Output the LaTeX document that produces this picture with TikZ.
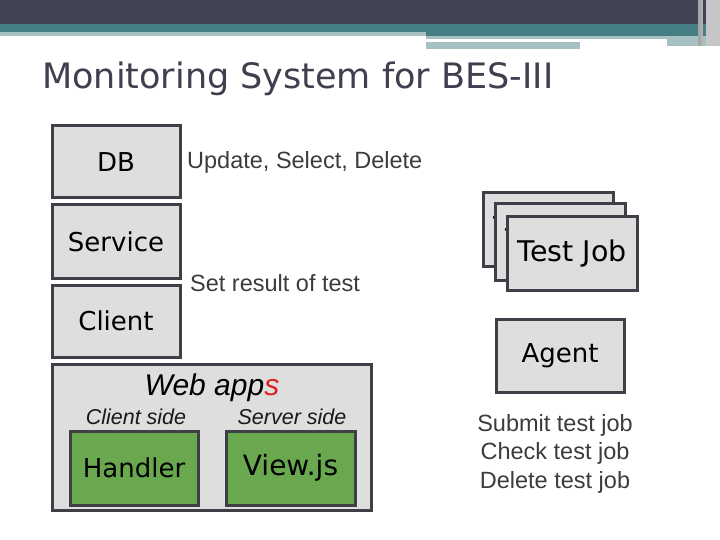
\documentclass[tikz,border=0pt]{standalone}
\usepackage{fontspec}
\setmainfont{Liberation Sans}
\newfontfamily\boxfont{DejaVu Sans}
\definecolor{darkbar}{RGB}{67,67,86}
\definecolor{tealbar}{RGB}{69,127,132}
\definecolor{lightteal}{RGB}{167,192,195}
\definecolor{boxfill}{RGB}{222,222,222}
\definecolor{boxline}{RGB}{63,63,72}
\definecolor{greenfill}{RGB}{106,168,79}
\definecolor{titlecol}{RGB}{63,63,79}
\definecolor{labelcol}{RGB}{60,60,60}
\definecolor{sred}{RGB}{220,30,30}
\tikzset{
  graybox/.style={draw=boxline, fill=boxfill, line width=3pt, inner sep=0pt, outer sep=0pt,
    font=\boxfont\fontsize{26}{30}\selectfont, text=black},
  greenbox/.style={graybox, fill=greenfill},
  lbl/.style={inner sep=0pt, font=\fontsize{23.5}{28.5}\selectfont, text=labelcol},
  ilbl/.style={inner sep=0pt, font=\itshape\fontsize{21.5}{26}\selectfont, text=black!90}
}
\begin{document}
\begin{tikzpicture}[x=1pt,y=-1pt]
\useasboundingbox (0,0) rectangle (720,540);
\fill[white] (0,0) rectangle (720,540);
% header
\fill[darkbar] (0,0) rectangle (720,24);
\fill[tealbar] (0,24) rectangle (720,36);
\fill[lightteal] (0,32) rectangle (426,36);
\fill[lightteal] (426,36) rectangle (720,46);
\fill[white] (426,39) rectangle (667,42);
\fill[white] (580,42) rectangle (667,46);
\fill[lightteal] (426,42) rectangle (580,49);
\fill[gray!70] (698,0) rectangle (701,46);
\fill[gray!45] (706,0) rectangle (720,46);
\fill[gray!60] (701,0) rectangle (703,46);
% title
\node[anchor=base west, inner sep=0pt, text=titlecol, font=\boxfont\fontsize{35}{40}\selectfont] (title) at (42,89) {Monitoring System for BES-III};
% left stack
\node[graybox, minimum width=128pt, minimum height=72pt] (db) at (116,162) {DB};
\node[graybox, minimum width=128pt, minimum height=73pt] (service) at (116,241.5) {Service};
\node[graybox, minimum width=128pt, minimum height=72pt] (client) at (116,321) {Client};
\node[lbl, anchor=west] (upd) at (187,162) {Update, Select, Delete};
\node[lbl, anchor=west] (setres) at (190,283) {Set result of test};
% web apps
\node[graybox, minimum width=319pt, minimum height=146pt] (web) at (211.5,437) {};
\node[inner sep=0pt, font=\itshape\fontsize{30}{34}\selectfont, text=black] (webt) at (212,388) {Web app\textcolor{sred}{s}};
\node[ilbl] (cside) at (136,417) {Client side};
\node[ilbl] (sside) at (292,417) {Server side};
\node[greenbox, minimum width=128pt, minimum height=74pt] (handler) at (134,468) {Handler};
\node[greenbox, minimum width=129pt, minimum height=74pt, font=\boxfont\fontsize{28}{32}\selectfont] (view) at (290.5,468) {View.js};
% test jobs
\tikzset{tjob/.style={graybox, minimum width=130pt, font=\boxfont\fontsize{28.5}{32}\selectfont}}
\node[tjob, minimum height=74pt] (tj1) at (548,229.5) {Test Job};
\node[tjob, minimum height=76pt] (tj2) at (560,242) {Test Job};
\node[tjob, minimum height=73pt] (tj3) at (572,253.5) {Test Job};
% agent
\node[graybox, minimum width=128pt, minimum height=73pt] (agent) at (560,355.5) {Agent};
\node[lbl, align=center] (ops) at (555,453.5) {Submit test job\\Check test job\\Delete test job};
\end{tikzpicture}
\end{document}
